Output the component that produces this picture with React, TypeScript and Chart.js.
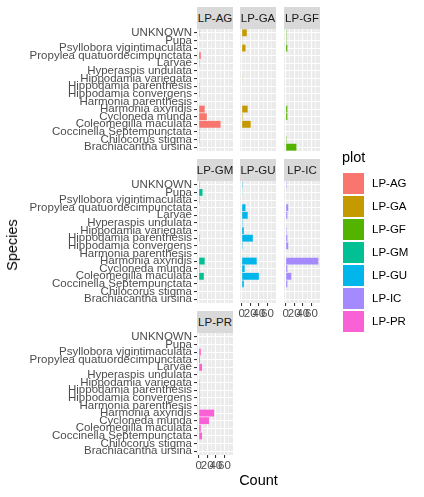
"use client"

import { useEffect, useRef } from "react"
import { Chart, registerables } from "chart.js"

Chart.register(...registerables)

// categories, top to bottom as drawn
const species = [
  "UNKNOWN",
  "Pupa",
  "Psyllobora vigintimaculata",
  "Propylea quatuordecimpunctata",
  "Larvae",
  "Hyperaspis undulata",
  "Hippodamia variegata",
  "Hippodamia parenthesis",
  "Hippodamia convergens",
  "Harmonia parenthesis",
  "Harmonia axyridis",
  "Cycloneda munda",
  "Coleomegilla maculata",
  "Coccinella Septempunctata",
  "Chilocorus stigma",
  "Brachiacantha ursina",
]

const plots = ["LP-AG", "LP-GA", "LP-GF", "LP-GM", "LP-GU", "LP-IC", "LP-PR"]
const plotColors = ["#F8766D", "#C49A00", "#53B400", "#00C094", "#00B6EB", "#A58AFF", "#FB61D7"]

// counts per plot, same order as species
const agCounts = [2, 0, 0, 5, 2, 0, 0, 2, 2, 0, 14, 19, 51, 2, 2, 0]
const gaCounts = [12, 1, 9, 0, 0, 0, 1, 0, 0, 0, 14, 2, 21, 0, 0, 0]
const gfCounts = [2, 2, 4, 0, 0, 0, 0, 0, 0, 0, 4, 4, 0, 0, 2, 25]
const gmCounts = [2, 9, 2, 0, 1, 1, 0, 2, 0, 0, 14, 2, 12, 0, 0, 0]
const guCounts = [2, 1, 0, 9, 14, 2, 5, 26, 2, 0, 35, 7, 40, 5, 0, 0]
const icCounts = [2, 0, 0, 6, 4, 0, 2, 4, 6, 0, 76, 4, 13, 4, 0, 0]
const prCounts = [0, 0, 5, 3, 8, 0, 2, 2, 2, 2, 36, 24, 5, 8, 0, 0]

const counts = [agCounts, gaCounts, gfCounts, gmCounts, guCounts, icCounts, prCounts]

const FONT = "'Liberation Sans', Arial, sans-serif"
const SMALL = 11.5
const TITLE = 14.5
const M = 10
const colLeft = [197, 240, 284]
const rowTop = [29, 181, 333]
const panelW = 36
const panelH = 122
const yAxisW = 197
const xAxisH = 19
const stripH = 22

const maxCount = Math.max(...counts.flat())
const xMin = -0.05 * maxCount
const xMax = 1.05 * maxCount

const panelBg = {
  id: "panelBg",
  beforeDraw(chart: Chart) {
    const { ctx, chartArea: a } = chart
    ctx.save()
    ctx.fillStyle = "#EBEBEB"
    ctx.fillRect(a.left, a.top, a.right - a.left, a.bottom - a.top)
    ctx.restore()
  },
}

function Panel({ idx }: { idx: number }) {
  const chartRef = useRef<HTMLCanvasElement>(null)
  const chartInstance = useRef<Chart | null>(null)
  const col = idx % 3
  const row = Math.floor(idx / 3)
  const showY = col === 0
  const showX = idx >= 4
  const w = M + (showY ? yAxisW : 0) + panelW + M
  const h = M + panelH + (showX ? xAxisH : 0) + M

  useEffect(() => {
    if (!chartRef.current) return
    if (chartInstance.current) chartInstance.current.destroy()
    const isMajor = (c: any) => c.tick && c.tick.value % 20 === 0

    chartInstance.current = new Chart(chartRef.current, {
      type: "bar",
      data: {
        labels: species,
        datasets: [
          {
            data: counts[idx],
            backgroundColor: plotColors[idx],
            barPercentage: 0.9,
            categoryPercentage: 1,
          },
        ],
      },
      options: {
        indexAxis: "y",
        responsive: false,
        animation: false,
        layout: { padding: M },
        plugins: { legend: { display: false }, tooltip: { enabled: false } },
        scales: {
          x: {
            type: "linear",
            min: xMin,
            max: xMax,
            border: { display: false },
            grid: {
              color: "#FFFFFF",
              lineWidth: (c: any) => (isMajor(c) ? 1.07 : 0.53),
              drawTicks: showX,
              tickLength: 3,
              tickWidth: 1.07,
              tickColor: (c: any) => (isMajor(c) ? "#333333" : "rgba(0,0,0,0)"),
            },
            ticks: {
              display: showX,
              stepSize: 10,
              includeBounds: false,
              autoSkip: false,
              maxRotation: 0,
              minRotation: 0,
              padding: 1,
              color: "#4D4D4D",
              font: { family: FONT, size: SMALL },
              callback: (v: any) => (Number(v) % 20 === 0 ? String(v) : ""),
            },
            afterFit: (s: any) => {
              s.height = showX ? xAxisH : 0
            },
          },
          y: {
            type: "category",
            offset: true,
            border: { display: false },
            grid: {
              color: "#FFFFFF",
              lineWidth: 1.07,
              offset: false,
              drawTicks: showY,
              tickLength: 3,
              tickWidth: 1.07,
              tickColor: "#333333",
            },
            ticks: {
              display: showY,
              autoSkip: false,
              padding: 2,
              color: "#4D4D4D",
              font: { family: FONT, size: SMALL },
            },
            afterFit: (s: any) => {
              s.width = showY ? yAxisW : 0
            },
          },
        },
      },
      plugins: [panelBg],
    })

    return () => {
      if (chartInstance.current) {
        chartInstance.current.destroy()
        chartInstance.current = null
      }
    }
  }, [idx])

  return (
    <>
      <canvas
        ref={chartRef}
        width={w}
        height={h}
        style={{
          position: "absolute",
          left: colLeft[col] - (showY ? yAxisW : 0) - M,
          top: rowTop[row] - M,
          width: w,
          height: h,
        }}
      />
      <div
        style={{
          position: "absolute",
          left: colLeft[col],
          top: rowTop[row] - stripH,
          width: panelW,
          height: stripH,
          background: "#D9D9D9",
          color: "#1A1A1A",
          font: `${SMALL}px ${FONT}`,
          lineHeight: `${stripH}px`,
          textAlign: "center",
          whiteSpace: "nowrap",
          zIndex: 2,
        }}
      >
        <span style={{ display: "inline-block", width: 0, overflow: "visible" }}>
          <span style={{ display: "inline-block", transform: "translateX(-50%)" }}>{plots[idx]}</span>
        </span>
      </div>
    </>
  )
}

export default function App() {
  return (
    <div
      style={{
        position: "fixed",
        left: 0,
        top: 0,
        width: 424,
        height: 497,
        background: "#FFFFFF",
        overflow: "hidden",
        fontFamily: FONT,
      }}
    >
      {plots.map((p, i) => (
        <Panel key={p} idx={i} />
      ))}

      {/* axis titles */}
      <div
        style={{
          position: "absolute",
          left: colLeft[0],
          width: colLeft[2] + panelW - colLeft[0],
          top: 472,
          textAlign: "center",
          fontSize: TITLE,
          color: "#000000",
        }}
      >
        Count
      </div>
      <div
        style={{
          position: "absolute",
          left: 12,
          top: 245,
          transform: "translate(-50%, -50%) rotate(-90deg)",
          fontSize: TITLE,
          color: "#000000",
          whiteSpace: "nowrap",
        }}
      >
        Species
      </div>

      {/* legend */}
      <div style={{ position: "absolute", left: 342, top: 149, fontSize: TITLE, color: "#000000" }}>plot</div>
      {plots.map((p, i) => (
        <div key={p}>
          <div
            style={{
              position: "absolute",
              left: 343,
              top: 173 + i * 23,
              width: 21,
              height: 21,
              background: plotColors[i],
            }}
          />
          <div
            style={{
              position: "absolute",
              left: 372,
              top: 173 + i * 23,
              lineHeight: "21px",
              fontSize: SMALL,
              color: "#000000",
            }}
          >
            {p}
          </div>
        </div>
      ))}
    </div>
  )
}
